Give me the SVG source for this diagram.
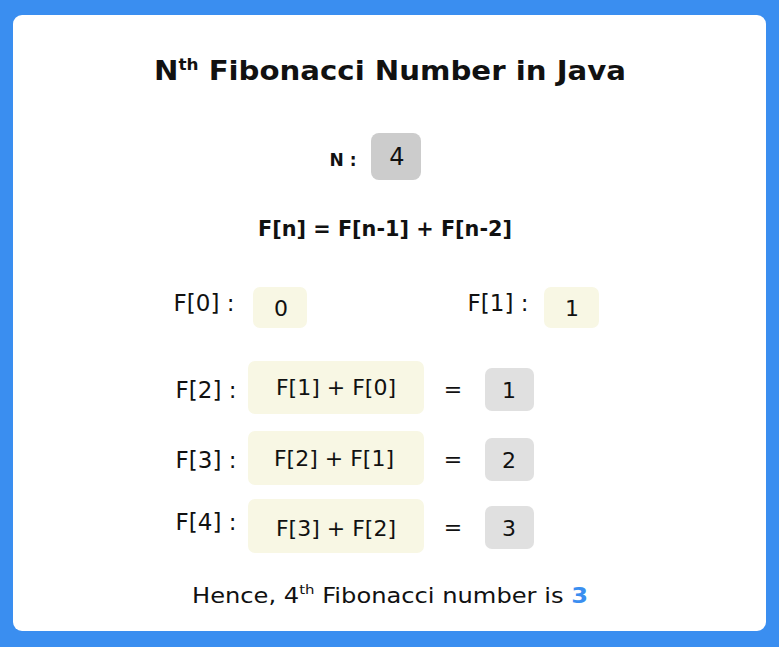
<svg xmlns="http://www.w3.org/2000/svg" width="779" height="647" viewBox="0 0 779 647">
<style>
text{font-family:"DejaVu Sans","Open Sans",sans-serif;fill:#111}
.t{font-weight:bold;font-size:26px}
.f{font-weight:bold;font-size:21px}
.l{font-size:23px}
.v{font-size:22px}
.cream{fill:#f8f7e4}
.grey{fill:#e0e0e0}
</style>
<rect width="779" height="647" fill="#3a8ef0"/>
<rect x="13" y="15" width="753" height="616" rx="9" fill="#fff"/>
<g id="title"><text class="t" x="390" y="80" text-anchor="middle" textLength="472" lengthAdjust="spacingAndGlyphs">N<tspan font-size="15" dy="-10">th</tspan><tspan dy="10"> Fibonacci Number in Java</tspan></text></g>
<g id="n"><text x="343" y="166" text-anchor="middle" textLength="27" lengthAdjust="spacingAndGlyphs" style="font-size:18px;font-weight:bold">N :</text>
<rect x="371" y="133" width="50" height="47" rx="8" fill="#cccccc"/><text class="v" x="397" y="165" text-anchor="middle" style="font-size:24px">4</text></g>
<g id="formula"><text class="f" x="385" y="236" text-anchor="middle" textLength="254" lengthAdjust="spacingAndGlyphs">F[n] = F[n-1] + F[n-2]</text></g>
<g id="f0"><text class="l" x="204" y="311" text-anchor="middle">F[0] :</text>
<rect class="cream" x="253" y="287" width="54" height="41" rx="7"/><text class="v" x="281" y="316" text-anchor="middle">0</text></g>
<g id="f1"><text class="l" x="498" y="311" text-anchor="middle">F[1] :</text>
<rect class="cream" x="544" y="287" width="55" height="41" rx="7"/><text class="v" x="572" y="316" text-anchor="middle">1</text></g>
<g id="f2"><text class="l" x="206" y="398" text-anchor="middle">F[2] :</text>
<rect class="cream" x="248" y="361" width="176" height="53" rx="7"/><text class="v" x="336" y="395" text-anchor="middle">F[1] + F[0]</text>
<text class="v" x="453" y="397" text-anchor="middle">=</text>
<rect class="grey" x="485" y="368" width="49" height="43" rx="7"/><text class="v" x="509" y="398" text-anchor="middle">1</text></g>
<g id="f3"><text class="l" x="206" y="468" text-anchor="middle">F[3] :</text>
<rect class="cream" x="248" y="431" width="176" height="54" rx="7"/><text class="v" x="334" y="466" text-anchor="middle">F[2] + F[1]</text>
<text class="v" x="453" y="467" text-anchor="middle">=</text>
<rect class="grey" x="485" y="438" width="49" height="43" rx="7"/><text class="v" x="509" y="468" text-anchor="middle">2</text></g>
<g id="f4"><text class="l" x="206" y="530" text-anchor="middle">F[4] :</text>
<rect class="cream" x="248" y="499" width="176" height="54" rx="7"/><text class="v" x="336" y="536" text-anchor="middle">F[3] + F[2]</text>
<text class="v" x="453" y="535" text-anchor="middle">=</text>
<rect class="grey" x="485" y="506" width="49" height="43" rx="7"/><text class="v" x="509" y="536" text-anchor="middle">3</text></g>
<g id="conclusion"><text x="390" y="603" text-anchor="middle" textLength="396" lengthAdjust="spacingAndGlyphs" style="font-size:21px">Hence, 4<tspan font-size="13" dy="-9">th</tspan><tspan dy="9"> Fibonacci number is </tspan><tspan font-weight="bold" style="fill:#3a8ef0">3</tspan></text></g>
<g id="connectors"/>
</svg>
